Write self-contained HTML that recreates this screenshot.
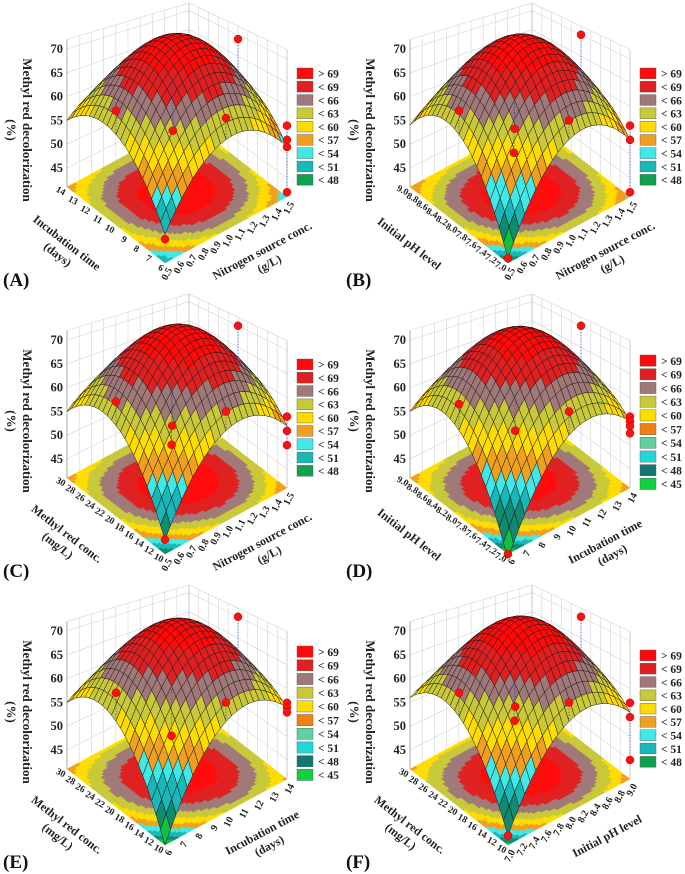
<!DOCTYPE html>
<html><head><meta charset="utf-8"><style>
html,body{margin:0;padding:0;background:#fff}
svg{display:block;font-family:"Liberation Serif",serif;font-weight:bold}
</style></head><body>
<svg id="fig" width="685" height="874" viewBox="0 0 685 874" xmlns="http://www.w3.org/2000/svg"></svg>
<script>
// Surface values at coded levels (-1,0,+1) of [right axis][left axis]
const gridA=[[47,60,55],[60,71.5,60],[51.5,60,50]];
const gridB=[[42,60,54],[60,71.5,59],[53,60,50]];
const gridC=[[44,60,55],[60,71.5,60],[54,61,50]];
const gridD=[[40,59,55],[59,71,60],[55,60,50]];
const gridE=[[41,59,55],[60,71,59],[56,60,50]];
const gridF=[[43,60,56],[60,71.5,59],[55,60,50]];
// Design points [coded right, coded left, response]
const ptsA=[[1,0,69],[-1,0,65],[0,-1,64.5],[1,-1,56],[1,-1,53],[1,-1,51.5],[1,-1,42],[-1,-1,46],[-0.35,-0.35,58]];
const ptsB=[[1,0,70],[-1,0,65],[0,-1,64],[1,-1,56],[1,-1,53],[1,-1,42],[-1,-1,42],[-0.5,-0.5,56],[-0.45,-0.45,60]];
const ptsC=[[1,0,70],[-1,0,65],[0,-1,64],[1,-1,56],[1,-1,53],[1,-1,50],[-1,-1,44],[-0.45,-0.45,55],[-0.4,-0.4,58]];
const ptsD=[[1,0,70],[-1,0,64.5],[0,-1,64],[1,-1,56],[1,-1,55],[1,-1,54],[1,-1,52.5],[-1,-1,41],[-0.4,-0.4,57]];
const ptsE=[[1,0,70],[-1,0,65],[0,-1,64],[1,-1,57],[1,-1,56],[1,-1,55],[-0.45,-0.45,55]];
const ptsF=[[1,0,70],[-1,0,65],[0,-1,64],[1,-1,57],[1,-1,54],[1,-1,45],[-1,-1,43],[-0.45,-0.45,58],[-0.4,-0.4,60]];
// Tick labels
const ticksNitrogen=['0.5','0.6','0.7','0.8','0.9','1.0','1.1','1.2','1.3','1.4','1.5'];
const ticksTime=['6','7','8','9','10','11','12','13','14'];
const ticksPH=['7.0','7.2','7.4','7.6','7.8','8.0','8.2','8.4','8.6','8.8','9.0'];
const ticksMR=['10','12','14','16','18','20','22','24','26','28','30'];
const ticksZ=[45,50,55,60,65,70];
const legend9=['> 69','< 69','< 66','< 63','< 60','< 57','< 54','< 51','< 48'];
const legend10=['> 69','< 69','< 66','< 63','< 60','< 57','< 54','< 51','< 48','< 45'];
const bandLimits=[45,48,51,54,57,60,63,66,69];
const bandColors=['#10c040','#108a70','#18b8b8','#40e8e8','#f0a020','#ffdc00','#c8c838','#a07878','#e02020','#ff0a0a'];
const legColors9=['#ff0a0a','#e02020','#a07878','#c8c838','#ffdc00','#f0a020','#40e8e8','#18b8b8','#10a050'];
const legColors10=['#ff0a0a','#e02020','#a07878','#c8c838','#ffdc00','#f08010','#60d0a0','#20d8d8','#107870','#10d040'];

const panels=[
 {id:'A',ox:0,oy:0,g:gridA,pts:ptsA,xt:ticksNitrogen,yt:ticksTime,xn:['Nitrogen source conc.','(g/L)'],yn:['Incubation time','(days)'],leg:legend9,lc:legColors9},
 {id:'B',ox:343,oy:0,g:gridB,pts:ptsB,xt:ticksNitrogen,yt:ticksPH,xn:['Nitrogen source conc.','(g/L)'],yn:['Initial pH level'],leg:legend9,lc:legColors9},
 {id:'C',ox:0,oy:291,g:gridC,pts:ptsC,xt:ticksNitrogen,yt:ticksMR,xn:['Nitrogen source conc.','(g/L)'],yn:['Methyl red conc.','(mg/L)'],leg:legend9,lc:legColors9},
 {id:'D',ox:343,oy:291,g:gridD,pts:ptsD,xt:ticksTime,yt:ticksPH,xn:['Incubation time','(days)'],yn:['Initial pH level'],leg:legend10,lc:legColors10},
 {id:'E',ox:0,oy:582,g:gridE,pts:ptsE,xt:ticksTime,yt:ticksMR,xn:['Incubation time','(days)'],yn:['Methyl red conc.','(mg/L)'],leg:legend10,lc:legColors10},
 {id:'F',ox:343,oy:582,g:gridF,pts:ptsF,xt:ticksPH,yt:ticksMR,xn:['Initial pH level'],yn:['Methyl red conc.','(mg/L)'],leg:legend9,lc:legColors9}
];

const NS='http://www.w3.org/2000/svg';
const svg=document.getElementById('fig');
function mk(tag,attrs,parent,txt){const e=document.createElementNS(NS,tag);for(const k in attrs)e.setAttribute(k,attrs[k]);if(txt!==undefined)e.textContent=txt;parent.appendChild(e);return e;}
const ZF=41, ZT=72;
function proj(p,u,v,z){const bx=165+122*u-98*v, by=263-66*u-76*v;const kz=4.76*(1-0.2*u*v)*(1+0.12*Math.sin(Math.PI*u)*Math.sin(Math.PI*v));return [p.ox+bx, p.oy+by-(z-ZF)*kz];}
function L(t){return [2*(t-.5)*(t-1),-4*t*(t-1),2*t*(t-.5)];}
function zAt(g,u,v){const a=L(u),b=L(v);let s=0;for(let i=0;i<3;i++)for(let j=0;j<3;j++)s+=a[i]*b[j]*g[i][j];return s;}
function col(z){let k=0;while(k<bandLimits.length&&z>=bandLimits[k])k++;return bandColors[k];}
function pstr(a){return a.map(q=>q[0].toFixed(1)+','+q[1].toFixed(1)).join(' ');}

panels.forEach(p=>{
 const G=mk('g',{},svg);
 
 
 const walls=mk('g',{stroke:'#d4d4d4','stroke-width':0.6,fill:'none'},G);
 
 
 function wp(u,v,z){const bx=165+122*u-98*v, by=263-66*u-76*v;const kz=4.76*(1-0.2*u*v);return [p.ox+bx,p.oy+by-(z-ZF)*kz];}
 for(let k=0;k<=10;k++){const t=k/10;
  let a=wp(t,1,ZF),b=wp(t,1,ZT);mk('line',{x1:a[0],y1:a[1],x2:b[0],y2:b[1]},walls);
  a=wp(1,t,ZF);b=wp(1,t,ZT);mk('line',{x1:a[0],y1:a[1],x2:b[0],y2:b[1]},walls);}
 ticksZ.concat([ZT]).forEach(z=>{let a=wp(0,1,z),b=wp(1,1,z),c=wp(1,0,z);
  mk('polyline',{points:pstr([a,b,c])},walls);});
 [[0,1],[1,1],[1,0]].forEach((c,i)=>{const a=wp(c[0],c[1],ZF),b=wp(c[0],c[1],ZT);
  mk('line',{x1:a[0],y1:a[1],x2:b[0],y2:b[1],stroke:i==0?'#999':'#c4c4c4','stroke-width':0.8},walls);});
 const fl=mk('g',{},G);
 
 
 const NF=44;
 for(let i=0;i<NF;i++)for(let j=0;j<NF;j++){
  const u0=i/NF,u1=(i+1)/NF,v0=j/NF,v1=(j+1)/NF;
  const c=col(zAt(p.g,(u0+u1)/2,(v0+v1)/2));
  mk('polygon',{points:pstr([wp(u0,v0,ZF),wp(u1,v0,ZF),wp(u1,v1,ZF),wp(u0,v1,ZF)]),fill:c,stroke:c,'stroke-width':0.4},fl);
 }
 const dots=[];
 p.pts.forEach(q=>{const u=(q[0]+1)/2,v=(q[1]+1)/2;dots.push([u,v,q[2]]);});
 const sf=mk('g',{stroke:'#1a1a1a','stroke-width':0.5,'stroke-linejoin':'round'},G);
 
 
 const N=22, quads=[];
 for(let i=0;i<N;i++)for(let j=0;j<N;j++)quads.push([i,j]);
 quads.sort((a,b)=>(b[0]+b[1])-(a[0]+a[1]));
 quads.forEach(([i,j])=>{
  const u0=i/N,u1=(i+1)/N,v0=j/N,v1=(j+1)/N;
  const z00=zAt(p.g,u0,v0),z10=zAt(p.g,u1,v0),z11=zAt(p.g,u1,v1),z01=zAt(p.g,u0,v1);
  mk('polygon',{points:pstr([proj(p,u0,v0,z00),proj(p,u1,v0,z10),proj(p,u1,v1,z11),proj(p,u0,v1,z01)]),fill:col((z00+z10+z11+z01)/4)},sf);
 });
 const dg=mk('g',{},G);
 
 
 dots.forEach(d=>{const a=proj(p,d[0],d[1],d[2]),b=proj(p,d[0],d[1],zAt(p.g,d[0],d[1]));
  mk('line',{x1:a[0],y1:a[1],x2:b[0],y2:b[1],stroke:'#3050c0','stroke-width':0.7,'stroke-dasharray':'1.5,1.5'},dg);
  const c=mk('circle',{cx:a[0],cy:a[1],r:4,fill:'#ff1010',stroke:'#c00000','stroke-width':0.5},dg);
  
  
 });
 const za=mk('g',{'font-size':12.5,fill:'#222'},G);
 
 
 ticksZ.forEach(z=>{const a=wp(0,1,z);mk('text',{x:a[0]-4,y:a[1]+4,'text-anchor':'end'},za,String(z));});
 const zt=mk('text',{transform:`translate(${p.ox+23},${p.oy+130}) rotate(90)`,'text-anchor':'middle','font-size':13,fill:'#222'},G);
 
 
 mk('tspan',{x:0,dy:0},zt,'Methyl red decolorization');
 mk('tspan',{x:0,dy:16},zt,'(%)');
 const la=mk('g',{'font-size':9.5,fill:'#222'},G);
 
 
 p.yt.forEach((t,k)=>{const v=k/(p.yt.length-1);const a=wp(0,v,ZF);
  const x=a[0]-2,y=a[1]+6;mk('text',{transform:`translate(${x},${y}) rotate(28)`,'text-anchor':'end',y:3},la,t);});
 const lt=mk('text',{transform:`translate(${p.ox+62},${p.oy+249}) rotate(38)`,'text-anchor':'middle','font-size':12,fill:'#222'},G);
 
 
 if(p.yn.length==1){mk('tspan',{x:0,dy:-3},lt,p.yn[0]);}else{mk('tspan',{x:0,dy:-4},lt,p.yn[0]);mk('tspan',{x:0,dy:15},lt,p.yn[1]);}
 const ra=mk('g',{'font-size':10,fill:'#222'},G);
 
 
 p.xt.forEach((t,k)=>{const u=k/(p.xt.length-1);const a=wp(u,0,ZF);
  const x=a[0]+4,y=a[1]+5;mk('text',{transform:`translate(${x},${y}) rotate(-62)`,'text-anchor':'end',y:4},ra,t);});
 const rt=mk('text',{transform:`translate(${p.ox+264},${p.oy+254}) rotate(-28)`,'text-anchor':'middle','font-size':12,fill:'#222'},G);
 
 
 if(p.xn.length==1){mk('tspan',{x:0,dy:4},rt,p.xn[0]);}else{mk('tspan',{x:0,dy:0},rt,p.xn[0]);mk('tspan',{x:0,dy:15},rt,p.xn[1]);}
 const lg=mk('g',{'font-size':11.5,fill:'#222'},G);
 
 
 const top=p.oy+(p.leg.length==9?67:63), h=p.leg.length==9?13.3:13.7;
 p.leg.forEach((s,k)=>{
  const e=mk('g',{},lg);
  
  
  mk('rect',{x:p.ox+297,y:top+k*h+1,width:16,height:h-2.5,fill:p.lc[k],stroke:'#555','stroke-width':0.4},e);
  mk('text',{x:p.ox+318,y:top+k*h+h/2+4},e,s);
 });
 const pl=mk('text',{x:p.ox+3,y:p.oy+286,'font-size':19,fill:'#111'},G,'('+p.id+')');
 
 
});
</script>
</body></html>
